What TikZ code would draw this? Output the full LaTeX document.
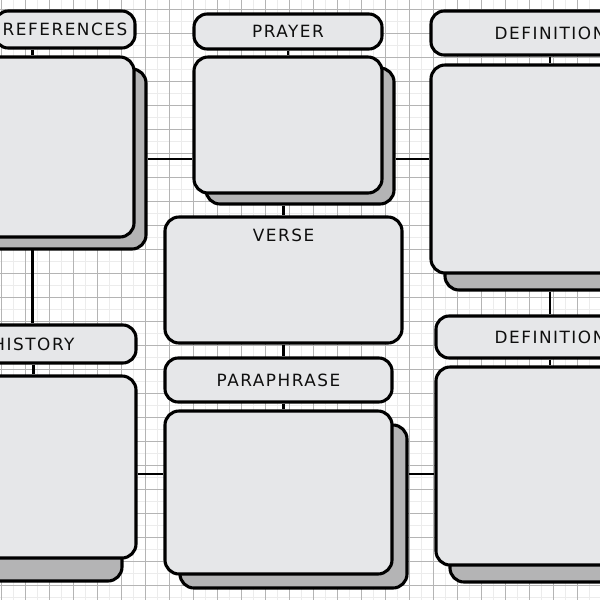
\documentclass[tikz,border=0pt]{standalone}
\usepackage{fontspec}
\usepackage{tikz}
\usetikzlibrary{positioning}
\newfontfamily\tagfont[LetterSpace=9]{DejaVu Sans}
\definecolor{panelgrey}{RGB}{230,231,233}
\definecolor{shadegrey}{RGB}{180,180,181}
\definecolor{gridgrey}{RGB}{180,180,180}
\definecolor{finegrey}{RGB}{236,236,236}
\definecolor{inkblack}{RGB}{15,15,15}

\pgfdeclarelayer{paper}
\pgfdeclarelayer{links}
\pgfsetlayers{paper,links,main}

\tikzset{
  dims/.style 2 args={minimum width=#1*0.025cm, minimum height=#2*0.025cm},
  tagtext/.style={font=\tagfont\fontsize{12}{14}\selectfont, text=inkblack},
  panel/.style={draw=black, line width=2.2pt, fill=panelgrey, rounded corners=0.35cm, inner sep=0pt},
  tag/.style={panel, rounded corners=0.33cm, tagtext},
  shadowbox/.style={panel, fill=shadegrey},
  link/.style={draw=black, line width=2pt},
}

\begin{document}
\begin{tikzpicture}[x=0.025cm, y=-0.025cm]

      \useasboundingbox (0,0) rectangle (600,600);
      \clip (0,0) rectangle (600,600);

      % grid paper
      \begin{pgfonlayer}{paper}
        \fill [white] (0,0) rectangle (600,600);
        \begin{scope}[shift={(1,9)}]
          \draw [finegrey, line width=0.3pt, step=0.3cm] (-24,-24) grid (624,624);
          \draw [gridgrey, line width=0.5pt, step=0.6cm] (-24,-24) grid (624,624);
        \end{scope}
      \end{pgfonlayer}

      % left column
      \node [tag, dims={140}{37}] at (65, 29.5) (reflabel) {REFERENCES};
      \node [shadowbox, dims={203}{180}] at (44.5, 159) (refshade) {};
      \node [panel, dims={203}{180}] at (32.5, 147) (refbox) {};

      \node [tag, dims={205}{38}] at (33.5, 344) (histlabel) {HISTORY};
      \node [shadowbox, dims={205}{182}] at (19.5, 490) (histshade) {};
      \node [panel, dims={205}{182}] at (33.5, 467) (histbox) {};

      % middle column
      \node [tag, dims={188}{35}] at (288, 31.5) (prayerlabel) {PRAYER};
      \node [shadowbox, dims={188}{136}] at (300, 136) (prayershade) {};
      \node [panel, dims={188}{136}] at (288, 125) (prayerbox) {};

      \node [panel, dims={237}{126},
             label={[tagtext, anchor=north, yshift=-0.22cm]north:VERSE}] at (283.5, 280) (verse) {};

      \node [tag, dims={227}{44}] at (278.5, 380) (paralabel) {PARAPHRASE};
      \node [shadowbox, dims={227}{163}] at (293.5, 506.5) (parashade) {};
      \node [panel, dims={227}{163}] at (278.5, 492.5) (parabox) {};

      % right column
      \node [tag, dims={238}{44}] at (550, 33) (deflabel) {DEFINITION};
      \node [shadowbox, dims={238}{208}] at (564, 186) (defshade) {};
      \node [panel, dims={238}{208}] at (550, 169) (defbox) {};

      \node [tag, dims={228}{42}] at (550, 337) (deflabelb) {DEFINITION};
      \node [shadowbox, dims={228}{198}] at (564, 483) (defshadeb) {};
      \node [panel, dims={228}{198}] at (550, 466) (defboxb) {};

      \coordinate (lowrow) at (0, 474);

      \begin{pgfonlayer}{links}
        \draw [link] (reflabel.south -| refbox.north) -- (refbox.north);
        \draw [link] (refbox.south) -- (histlabel.north -| refbox.south);
        \draw [link] (histlabel.south) -- (histbox.north);
        \draw [link] (refshade.east) -- (refshade.east -| prayerbox.west);
        \draw [link] (prayershade.east |- refshade.east) -- (refshade.east -| defbox.west);

        \draw [link] (prayerlabel.south) -- (prayerbox.north);
        \draw [link] (verse.north |- prayershade.south) -- (verse.north);
        \draw [link] (verse.south) -- (paralabel.north -| verse.south);
        \draw [link] (paralabel.south -| verse.south) -- (parabox.north -| verse.south);
        \draw [link] (histbox.east |- lowrow) -- (parabox.west |- lowrow);
        \draw [link] (parashade.east |- lowrow) -- (defboxb.west |- lowrow);

        \draw [link] (deflabel.south) -- (defbox.north);
        \draw [link] (defshade.south -| defbox.south) -- (deflabelb.north);
        \draw [link] (deflabelb.south) -- (defboxb.north);
      \end{pgfonlayer}
    \end{tikzpicture}
\end{document}
